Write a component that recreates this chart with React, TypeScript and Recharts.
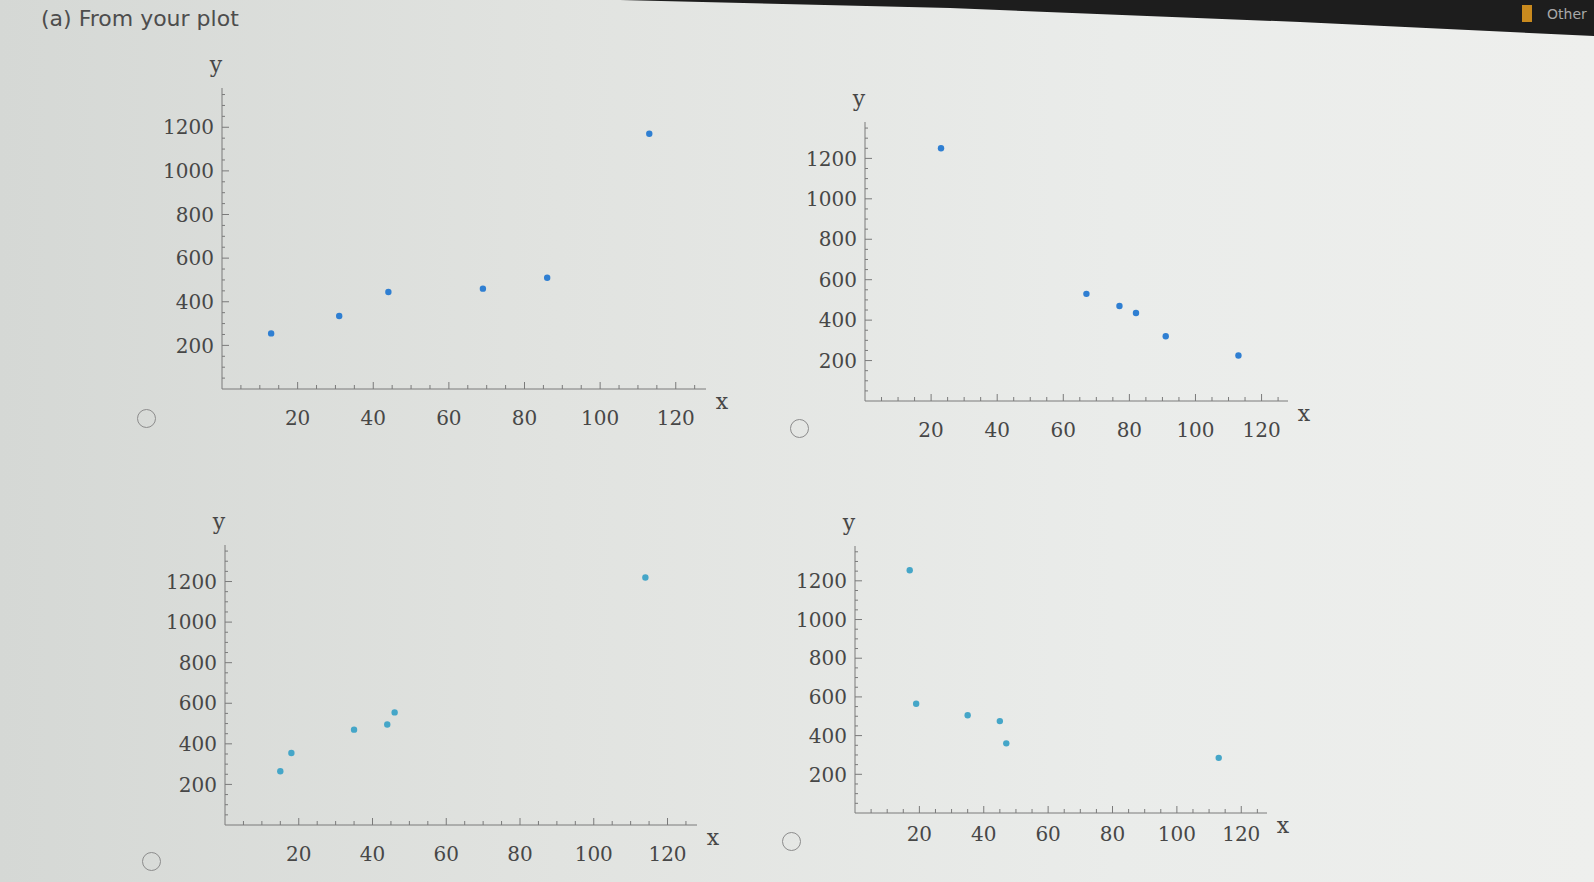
import { ScatterChart, Scatter, XAxis, YAxis } from 'recharts';

// values (x, y)
const p1X = [13, 31, 44, 69, 86, 113];
const p1Y = [255, 335, 445, 460, 510, 1170];
const p2X = [23, 67, 77, 82, 91, 113];
const p2Y = [1250, 530, 470, 435, 320, 225];
const p3X = [15, 18, 35, 44, 46, 114];
const p3Y = [265, 355, 470, 495, 555, 1220];
const p4X = [17, 19, 35, 45, 47, 113];
const p4Y = [1255, 565, 505, 475, 360, 285];

const xTicks = [5, 10, 15, 20, 25, 30, 35, 40, 45, 50, 55, 60, 65, 70, 75, 80, 85, 90, 95, 100, 105, 110, 115, 120, 125];
const yTicks = [50, 100, 150, 200, 250, 300, 350, 400, 450, 500, 550, 600, 650, 700, 750, 800, 850, 900, 950, 1000, 1050, 1100, 1150, 1200, 1250, 1300, 1350];

const axisColor = '#7a7a7a';
const labelColor = '#474747';
const serif = '"DejaVu Serif", "Liberation Serif", serif';

const toPoints = (xs: number[], ys: number[]) => xs.map((x, i) => ({ x, y: ys[i] }));

const XTick = (props: any) => {
  const { x, y, payload, labelDy } = props;
  const major = payload.value % 20 === 0;
  return (
    <g>
      <line x1={x} x2={x} y1={y} y2={y - (major ? 7 : 4)} stroke={axisColor} />
      {major && (
        <text x={x} y={y + labelDy} textAnchor="middle" fill={labelColor} fontSize={20} fontFamily={serif}>
          {payload.value}
        </text>
      )}
    </g>
  );
};

const YTick = (props: any) => {
  const { x, y, payload } = props;
  const major = payload.value % 200 === 0;
  return (
    <g>
      <line x1={x} x2={x + (major ? 7 : 3)} y1={y} y2={y} stroke={axisColor} />
      {major && (
        <text x={x - 8} y={y} dy="0.36em" textAnchor="end" fill={labelColor} fontSize={20} fontFamily={serif}>
          {payload.value}
        </text>
      )}
    </g>
  );
};

interface PanelProps {
  left: number;
  top: number;
  w: number;
  h: number;
  xs: number[];
  ys: number[];
  color: string;
  radio: [number, number];
  labelDy?: number;
}

function Panel({ left, top, w, h, xs, ys, color, radio, labelDy = 36 }: PanelProps) {
  const padL = 70;
  const padT = 10;
  return (
    <>
      <div style={{ position: 'absolute', left: left - padL, top: top - padT }}>
        <ScatterChart width={w + padL + 10} height={h + padT + 50} margin={{ top: padT, right: 10, left: 0, bottom: 0 }}>
          <XAxis
            type="number"
            dataKey="x"
            domain={[0, 128]}
            ticks={xTicks}
            interval={0}
            tick={<XTick labelDy={labelDy} />}
            tickLine={false}
            tickSize={0}
            tickMargin={0}
            height={50}
            stroke={axisColor}
          />
          <YAxis
            type="number"
            dataKey="y"
            domain={[0, 1380]}
            ticks={yTicks}
            interval={0}
            tick={<YTick />}
            tickLine={false}
            tickSize={0}
            tickMargin={0}
            width={padL}
            stroke={axisColor}
          />
          <Scatter
            data={toPoints(xs, ys)}
            isAnimationActive={false}
            shape={(p: any) => <circle cx={p.cx} cy={p.cy} r={3.2} fill={color} />}
          />
        </ScatterChart>
      </div>
      <div style={{ position: 'absolute', left: left - 6, top: top - 24, transform: 'translate(-50%,-50%)', fontFamily: serif, fontSize: 22, color: labelColor }}>
        y
      </div>
      <div style={{ position: 'absolute', left: left + w + 16, top: top + h + 12, transform: 'translate(-50%,-50%)', fontFamily: serif, fontSize: 22, color: labelColor }}>
        x
      </div>
      <div
        style={{
          position: 'absolute',
          left: radio[0] - 10,
          top: radio[1] - 10,
          width: 17,
          height: 17,
          borderRadius: '50%',
          border: '1.5px solid #8c8c8c',
        }}
      />
    </>
  );
}

export default function App() {
  return (
    <div
      style={{
        position: 'absolute',
        left: 0,
        top: 0,
        width: 1594,
        height: 882,
        overflow: 'hidden',
        background: 'linear-gradient(90deg, #d5d8d5 0%, #e1e3e0 35%, #eaecea 70%, #eeefed 100%)',
      }}
    >
      <div
        style={{
          position: 'absolute',
          left: 0,
          top: 0,
          width: 1594,
          height: 40,
          background: '#1d1d1d',
          clipPath: 'polygon(620px 0, 1594px 0, 1594px 36px, 1300px 22px, 950px 8px)',
        }}
      />
      <div style={{ position: 'absolute', left: 1522, top: 5, width: 10, height: 17, background: '#c98a1e' }} />
      <div style={{ position: 'absolute', left: 1547, top: 6, fontFamily: '"DejaVu Sans", sans-serif', fontSize: 14, color: '#a8a8a8' }}>
        Other
      </div>
      <div style={{ position: 'absolute', left: 41, top: 6, fontFamily: '"DejaVu Sans", sans-serif', fontSize: 22, color: '#4d4d4d' }}>
        (a) From your plot
      </div>

      <Panel left={222} top={88} w={484} h={301} xs={p1X} ys={p1Y} color="#2f7fd2" radio={[147, 419]} />
      <Panel left={865} top={122} w={423} h={279} xs={p2X} ys={p2Y} color="#2f7fd2" radio={[800, 429]} />
      <Panel left={225} top={545} w={472} h={280} xs={p3X} ys={p3Y} color="#45a6c8" radio={[152, 862]} />
      <Panel left={855} top={546} w={412} h={267} xs={p4X} ys={p4Y} color="#45a6c8" radio={[792, 842]} labelDy={28} />
    </div>
  );
}
